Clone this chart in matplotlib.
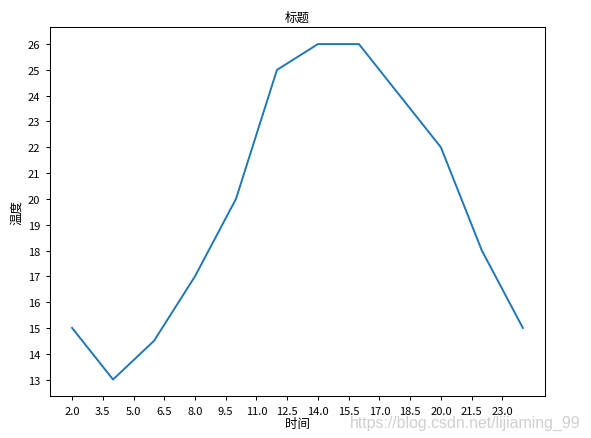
import matplotlib
matplotlib.use("Agg")
import matplotlib.pyplot as plt

plt.rcParams['font.family'] = ['Noto Sans CJK SC', 'DejaVu Sans']
plt.rcParams['axes.unicode_minus'] = False

x = list(range(2, 26, 2))
y = [15, 13, 14.5, 17, 20, 25, 26, 26, 24, 22, 18, 15]
xtick_vals = [i / 2 for i in range(4, 49)][::3]
ytick_vals = list(range(13, 27))

fig = plt.figure(figsize=(5.91, 4.39), dpi=100)
ax = fig.add_axes([0.0838, 0.095, 0.839, 0.8405])
ax.plot(x, y, color='#1f77b4', linewidth=1.4)
ax.set_xticks(xtick_vals)
ax.set_xticklabels([f"{v:.1f}" for v in xtick_vals])
ax.set_yticks(ytick_vals)
ax.tick_params(labelsize=8, length=3.2, width=0.75)
for s in ax.spines.values():
    s.set_linewidth(0.75)
ax.set_title("标题", fontsize=9, pad=5)
ax.set_xlabel("时间", fontsize=9, labelpad=1)
ax.set_ylabel("温度", fontsize=9, labelpad=3)

fig.text(0.983, 0.026, "https://blog.csdn.net/lijiaming_99", ha='right', va='baseline',
         fontsize=11.4, color='#d0d0d0', family=['Liberation Sans', 'DejaVu Sans'])

fig.savefig("out.png", dpi=100)
